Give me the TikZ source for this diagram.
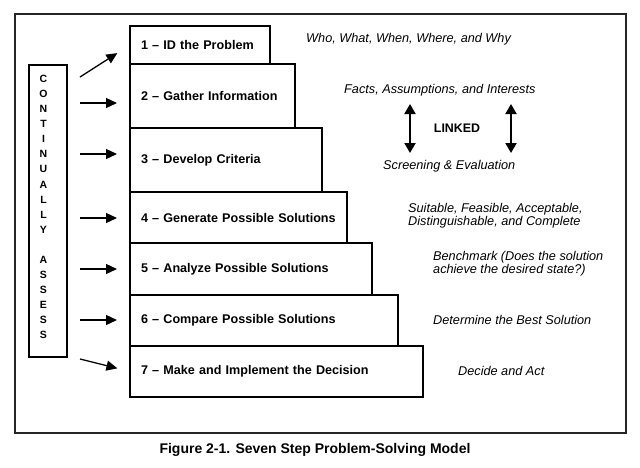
\documentclass[tikz,border=0pt]{standalone}
\usepackage{fontspec}
\setmainfont{Liberation Sans}
\usetikzlibrary{arrows.meta,positioning}

\begin{document}
\begin{tikzpicture}[x=1pt,y=-1pt,>={Triangle[length=11pt,width=10pt]},
  stepbox/.style={draw,line width=1.4pt,outer sep=0pt,inner xsep=11pt,inner ysep=0pt,align=left,font=\fontsize{12.6}{15}\selectfont\bfseries},
  note/.style={inner sep=0pt,anchor=west,align=left,font=\fontsize{12.7}{13.5}\selectfont\itshape},
  feed/.style={->,line width=1.3pt},
  link/.style={<->,line width=2pt,>={Triangle[length=10pt,width=11pt]}}]
  \useasboundingbox (0,0) rectangle (640,467);
  \draw[line width=2pt,black!85] (15,14) rectangle (626,433);

  % the seven steps
  \node[stepbox,anchor=north west,text width=118pt,minimum height=38pt] (s1) at (130,26) {1 -- ID the Problem};
  \node[stepbox,below right=0pt of s1.south west,text width=143pt,minimum height=64pt] (s2) {2 -- Gather Information};
  \node[stepbox,below right=0pt of s2.south west,text width=170pt,minimum height=64pt] (s3) {3 -- Develop Criteria};
  \node[stepbox,below right=0pt of s3.south west,text width=195pt,minimum height=51pt] (s4) {4 -- Generate Possible Solutions};
  \node[stepbox,below right=0pt of s4.south west,text width=220pt,minimum height=52pt] (s5) {5 -- Analyze Possible Solutions};
  \node[stepbox,below right=0pt of s5.south west,text width=246pt,minimum height=51pt] (s6) {6 -- Compare Possible Solutions};
  \node[stepbox,below right=0pt of s6.south west,text width=271pt,minimum height=51pt] (s7) {7 -- Make and Implement the Decision};

  % continually assess
  \node[draw,line width=1.4pt,minimum width=38pt,minimum height=292pt,inner sep=0pt] (assess) at (48,211) {};
  \node[align=center,inner sep=0pt,font=\fontsize{10.5}{15.06}\selectfont\bfseries] (word) at (43.5,207)
    {C\\O\\N\\T\\I\\N\\U\\A\\L\\L\\Y\\\mbox{}\\A\\S\\S\\E\\S\\S};

  \coordinate (f1) at (80,77);
  \coordinate (f2) at (80,103);
  \coordinate (f3) at (80,154);
  \coordinate (f4) at (80,218);
  \coordinate (f5) at (80,269);
  \coordinate (f6) at (80,320);
  \coordinate (f7) at (80,359);
  \draw[feed,shorten >=15pt] (f1) -- (s1.west);
  \foreach \i in {2,...,6}
    \draw[feed,shorten >=13pt] (f\i) -- (f\i -| s\i.west);
  \draw[feed,shorten >=13pt] (f7) -- (s7.west);

  % notes
  \node[note] (who) at (306,39) {Who, What, When, Where, and Why};
  \node[note] (facts) at (344,90) {Facts, Assumptions, and Interests};
  \node[font=\fontsize{12.4}{14}\selectfont\bfseries] (linked) at (457,128) {LINKED};
  \node[note] (screen) at (383,166) {Screening \& Evaluation};
  \node[note] (suit) at (408,215.5) {Suitable, Feasible, Acceptable,\\Distinguishable, and Complete};
  \node[note] (bench) at (433,263.5) {Benchmark (Does the solution\\achieve the desired state?)};
  \node[note] (best) at (433,320) {Determine the Best Solution};
  \node[note] (act) at (458,371) {Decide and Act};

  \coordinate (lu) at (410,104);
  \coordinate (ld) at (410,153);
  \coordinate (ru) at (511,104);
  \coordinate (rd) at (511,153);
  \draw[link] (lu) -- (ld);
  \draw[link] (ru) -- (rd);

  \node[font=\fontsize{14}{16}\selectfont\bfseries] (caption) at (315,450) {Figure 2-1. Seven Step Problem-Solving Model};
\end{tikzpicture}
\end{document}
